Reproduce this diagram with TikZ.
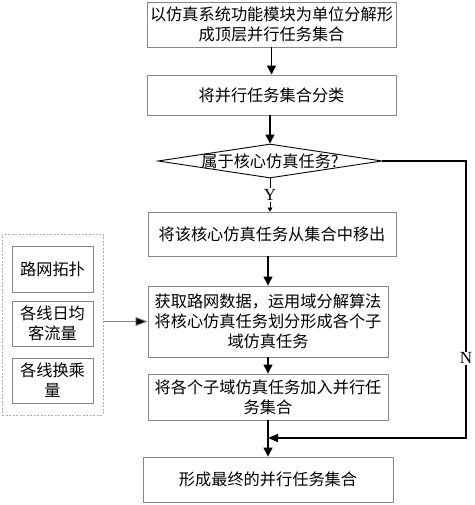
\documentclass[tikz,border=0pt]{standalone}
\usepackage{fontspec}
\setmainfont{Liberation Serif}
\newfontfamily\cjk{Noto Sans CJK SC}
\usepackage{tikz}
\usetikzlibrary{
    calc,
    positioning,
    shapes,
    fit,
    arrows.meta
}

\begin{document}
\begin{tikzpicture}[
    x=1pt, y=-1pt,
    font=\cjk\fontsize{16.2}{20}\selectfont,
    box/.style={
    	draw=my-gray,
    	line width=0.9pt,
    	minimum width=249pt,
    	minimum height=44pt,
    	inner sep=1pt, align=center
    }, smallbox/.style={
    	box,
    	minimum width=81pt,
    	minimum height=45pt
    }, lbl/.style={
    	fill=white,
    	font=\fontsize{17}{20}\selectfont,
    	inner sep=1pt
    }, pil/.style={
    	-{Triangle[length=9pt,width=9pt]},
    	line width=1.3pt
    }]
    \definecolor{my-gray}{RGB}{135, 135, 135}
    \definecolor{my-lightgray}{RGB}{175, 175, 175}

    \useasboundingbox (0,0) rectangle (474,505);

    %%% main flow
    \node[box, minimum height=45pt] (top) at (271.5,24.5) {以仿真系统功能模块为单位分解形\\成顶层并行任务集合};
    \node[box, minimum height=40pt] (classify) at (271.5,95) {将并行任务集合分类};
    \node[draw=black, line width=0.9pt, shape=diamond, aspect=6, inner sep=-3pt,
    	minimum width=224pt, minimum height=34pt] (core) at (270,161) {属于核心仿真任务?};
    \node[box, minimum width=248pt] (remove) at (272,234) {将该核心仿真任务从集合中移出};
    \node[box, minimum width=240pt, minimum height=71pt] (split) at (268,321.5) {获取路网数据，运用域分解算法\\将核心仿真任务划分形成各个子\\域仿真任务};
    \node[box, minimum width=240pt, minimum height=46pt] (join) at (268,397) {将各个子域仿真任务加入并行任\\务集合};
    \node[box, minimum width=250pt, minimum height=45pt] (final) at (268,479.5) {形成最终的并行任务集合};

    %%% road network data
    \node[smallbox, minimum height=46pt] (topo) at (52.5,269) {路网拓扑};
    \node[smallbox] (flow) at (52.5,323.5) {各线日均\\客流量};
    \node[smallbox] (trans) at (52.5,380.5) {各线换乘\\量};
    \node[draw=my-lightgray, dashed, dash pattern=on 2pt off 1.5pt, line width=0.8pt,
    	inner xsep=9.5pt, inner ysep=11.5pt, fit=(topo)(flow)(trans)] (data) {};

    \coordinate (merge) at (268,438);
    \coordinate (nright) at (466,438);

    %%% EDGES
    \draw[pil] (top) -- (classify);
    \draw[pil] (classify.south -| core.north) -- (core.north);
    \draw[-{Triangle[length=4pt,width=5pt]}, line width=0.8pt] (core.south) -- node[lbl] {Y} (core.south |- remove.north);
    \draw[pil] (remove.south -| split.north) -- (split.north);
    \draw[pil] (split) -- (join);
    \draw[pil] (join) -- (final);
    \draw[draw=my-gray, line width=0.8pt, -{Triangle[length=12pt,width=9pt,fill=black]}] (data.east |- split.west) -- (split.west);
    \draw[pil, -{Triangle[length=10pt,width=8pt]}] (core.east) -| node[lbl, pos=0.856] {N} (nright) -- (merge);

\end{tikzpicture}
\end{document}
